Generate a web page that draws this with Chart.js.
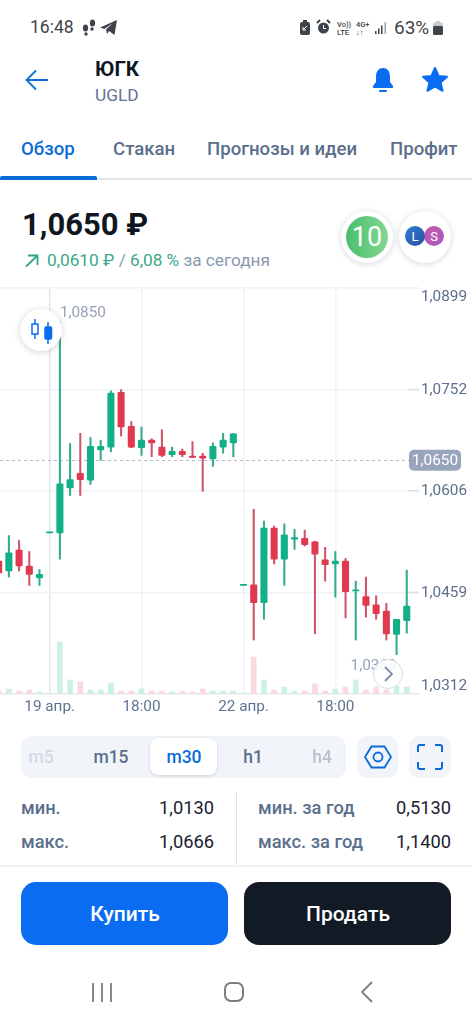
<!DOCTYPE html>
<html lang="ru">
<head>
<meta charset="utf-8">
<title>ЮГК</title>
<script src="https://cdn.jsdelivr.net/npm/chart.js@4"></script>
<style>
html, body { margin: 0; padding: 0; background: #fff; }
body { position: relative; width: 472px; height: 1024px; overflow: hidden; font-family: Roboto, sans-serif; color: #5b6f8c; }
.t { position: absolute; white-space: nowrap; line-height: 1; }
.r { text-align: right; }
.c { transform: translateX(-50%); }
.m { font-weight: 500; }
.box { position: absolute; }
svg { position: absolute; overflow: visible; }
#grafico { position: absolute; left: 0; top: 280px; }
</style>
</head>
<body>

<!-- status bar -->
<div class="t" style="left:30px;top:19px;font-size:17.500px;color:#3f444b">16:48</div>
<svg style="left:82px;top:19px" width="14" height="17" viewBox="0 0 14 17" fill="#3f444b"><ellipse cx="3.5" cy="9" rx="2.6" ry="3.6"/><circle cx="4" cy="15" r="1.7"/><ellipse cx="10.5" cy="4" rx="2.6" ry="3.6"/><circle cx="10" cy="10" r="1.7"/></svg>
<svg style="left:100px;top:20px" width="17" height="15" viewBox="0 0 17 15" fill="#3f444b"><path d="M0 7.5 17 0 14.5 15 9 11 7 14 6 9.5 13 3 4.500 9z"/></svg>
<svg style="left:300px;top:20px" width="10" height="15" viewBox="0 0 10 15"><rect x="0" y="2" width="10" height="13" rx="2" fill="#3f444b"/><rect x="3" y="0" width="4" height="3" fill="#3f444b"/><path d="M3 10 7 6M3 7v3h3" stroke="#fff" fill="none"/></svg>
<svg style="left:317px;top:20px" width="13" height="15" viewBox="0 0 13 15"><circle cx="6.500" cy="8" r="5.500" fill="#3f444b"/><path d="M6.500 5v3.500h2.500" stroke="#fff" fill="none"/><path d="M0 3 3 0M13 3 10 0" stroke="#3f444b" stroke-width="2"/></svg>
<div class="t m" style="left:337px;top:21px;font-size:7.500px;color:#3f444b;line-height:8px">Vo))<br>LTE</div>
<div class="t m" style="left:356px;top:21px;font-size:7.500px;color:#3f444b;line-height:8px">4G+<br>↓↑</div>
<svg style="left:375px;top:22px" width="12" height="12" viewBox="0 0 12 12" fill="#3f444b"><rect x="0" y="9" width="1.500" height="3"/><rect x="3" y="6.500" width="1.500" height="5.500"/><rect x="6" y="3.500" width="1.500" height="8.500"/><rect x="9.500" y="0" width="1.500" height="12" fill="#a0a3a8"/></svg>
<div class="t" style="left:394px;top:18px;font-size:19px;color:#3f444b">63%</div>
<svg style="left:433px;top:21px" width="10" height="14" viewBox="0 0 10 14"><rect x="0" y="1.500" width="10" height="12.500" rx="1.500" fill="#c9cbce"/><rect x="0" y="5" width="10" height="9" rx="1.500" fill="#3f444b"/><rect x="3" y="0" width="4" height="2" fill="#c9cbce"/></svg>

<!-- header -->
<svg style="left:25px;top:69px" width="24" height="22" viewBox="0 0 24 22" fill="none" stroke="#0b6fd6" stroke-width="1.800"><path d="M23 11H2M11 1.500 1.500 11 11 20.500"/></svg>
<div class="t" style="left:95px;top:59px;font-size:20.500px;font-weight:700;color:#10161f">ЮГК</div>
<div class="t" style="left:95px;top:87px;font-size:17.300px;color:#5f7391">UGLD</div>
<svg style="left:372px;top:68px" width="22" height="25" viewBox="0 0 22 25" fill="#0a6cf0"><path d="M11 0C6 0 4 4 4 9v5l-3 4c-.5 1 0 2 1 2h18c1 0 1.500-1 1-2l-3-4V9c0-5-2-9-7-9z"/><rect x="7" y="22" width="8" height="2" rx="1"/></svg>
<svg style="left:421px;top:66px" width="28" height="27" viewBox="0 0 28 27" fill="#0a6cf0"><path stroke="#0a6cf0" stroke-width="2" stroke-linejoin="round" d="M14 2l3.500 8 8.500.8-6.400 5.600 1.900 8.400L14 20.400 6.500 24.800l1.900-8.400L2 10.800l8.500-.8z"/></svg>

<!-- tabs -->
<div class="t m" style="left:21px;top:140px;font-size:18.600px;color:#0a6cd6">Обзор</div>
<div class="t m" style="left:113px;top:140px;font-size:18.600px">Стакан</div>
<div class="t m" style="left:207px;top:140px;font-size:18.600px">Прогнозы и идеи</div>
<div class="t m" style="left:390px;top:140px;font-size:18.600px">Профит</div>
<div class="box" style="left:0;top:178px;width:472px;height:1.500px;background:#dfe3ea"></div>
<div class="box" style="left:0;top:176px;width:97px;height:3.500px;background:#0a6cd6;border-radius:2px 2px 0 0"></div>

<!-- price -->
<div class="t" style="left:22px;top:209px;font-size:31px;font-weight:700;color:#10161f">1,0650 ₽</div>
<svg style="left:25px;top:254px" width="14" height="13" viewBox="0 0 14 13" fill="none" stroke="#2fa583" stroke-width="1.800"><path d="M1 12.500 12.500 1.500M3 1.500h9.500V11"/></svg>
<div class="t" style="left:47px;top:252px;font-size:17.200px;color:#3aa88a">0,0610 ₽ <span style="color:#8b99b0">/</span> 6,08 % <span style="color:#8b99b0">за сегодня</span></div>
<div class="box" style="left:341px;top:211px;width:52px;height:52px;border-radius:50%;background:#fff;box-shadow:0 1px 6px rgba(60,70,90,.22)"></div>
<div class="box" style="left:346px;top:216px;width:42px;height:42px;border-radius:50%;background:linear-gradient(90deg,#4bbf6d,#82d691)"></div>
<div class="t c" style="left:367px;top:224px;font-size:27px;color:#fff">10</div>
<div class="box" style="left:399px;top:211px;width:52px;height:52px;border-radius:50%;background:#fff;box-shadow:0 1px 6px rgba(60,70,90,.22)"></div>
<div class="box" style="left:424px;top:226px;width:20px;height:20px;border-radius:50%;background:linear-gradient(135deg,#c85aa6,#a65ac8)"></div>
<div class="box" style="left:405px;top:226px;width:20px;height:20px;border-radius:50%;background:linear-gradient(135deg,#2f7fd6,#2a4fa0)"></div>
<div class="t c" style="left:415px;top:230px;font-size:13px;color:#fff">L</div>
<div class="t c" style="left:434px;top:230px;font-size:13px;color:#fff">S</div>

<canvas id="grafico" width="472" height="442"></canvas>

<!-- chart overlays -->
<div class="box" style="left:20px;top:309px;width:42px;height:42px;border-radius:50%;background:#fff;box-shadow:0 1px 6px rgba(60,70,90,.25)"></div>
<svg style="left:31px;top:319px" width="22" height="26" viewBox="0 0 22 26" fill="none" stroke="#0a6cf0" stroke-width="1.500"><path d="M4 0v5M4 15v5"/><rect x="1" y="5" width="6" height="10"/><path d="M17 3v7M17 19v6"/><rect x="14" y="8" width="6.500" height="12" rx="1" fill="#0a6cf0"/></svg>
<div class="box" style="left:373px;top:659px;width:28px;height:28px;border-radius:50%;background:rgba(255,255,255,.88);border:1.500px solid #d8dce6"></div>
<svg style="left:384px;top:666px" width="9" height="16" viewBox="0 0 9 16" fill="none" stroke="#7f8dab" stroke-width="1.800"><path d="M1 1l7 7-7 7"/></svg>

<!-- timeframes -->
<div class="box" style="left:21px;top:736px;width:325px;height:42px;border-radius:11px;background:#f1f4f9"></div>
<div class="box" style="left:150px;top:738px;width:67px;height:37px;border-radius:8px;background:#fff;box-shadow:0 1px 3px rgba(60,70,90,.2)"></div>
<div class="t m c" style="left:41px;top:749px;font-size:17.500px;color:#d5dbe5">m5</div>
<div class="t m c" style="left:111px;top:749px;font-size:17.500px">m15</div>
<div class="t m c" style="left:184px;top:749px;font-size:17.500px;color:#0a6cd6">m30</div>
<div class="t m c" style="left:253px;top:749px;font-size:17.500px">h1</div>
<div class="t m c" style="left:322px;top:749px;font-size:17.500px;color:#b8c2cf">h4</div>
<div class="box" style="left:357px;top:736px;width:41px;height:42px;border-radius:10px;background:#f1f4f9"></div>
<svg style="left:364px;top:745px" width="28" height="24" viewBox="0 0 28 24" fill="none" stroke="#0a6cd6" stroke-width="1.800"><path d="M7.500 1.500h13L27 12l-6.500 10.500h-13L1 12z"/><circle cx="14" cy="12" r="4.500"/></svg>
<div class="box" style="left:409px;top:736px;width:42px;height:42px;border-radius:10px;background:#f1f4f9"></div>
<svg style="left:417px;top:744px" width="26" height="26" viewBox="0 0 26 26" fill="none" stroke="#0a6cd6" stroke-width="2"><path d="M1 8V3a2 2 0 0 1 2-2h5M18 1h5a2 2 0 0 1 2 2v5M25 18v5a2 2 0 0 1-2 2h-5M8 25H3a2 2 0 0 1-2-2v-5"/></svg>

<!-- stats -->
<div class="t m" style="left:21px;top:799px;font-size:18.300px">мин.</div>
<div class="t m" style="left:21px;top:833px;font-size:18.300px">макс.</div>
<div class="t r" style="right:258px;top:799px;font-size:18.300px;color:#1a2230">1,0130</div>
<div class="t r" style="right:258px;top:833px;font-size:18.300px;color:#1a2230">1,0666</div>
<div class="box" style="left:236px;top:792px;width:1px;height:74px;background:#dfe3ea"></div>
<div class="t m" style="left:258px;top:799px;font-size:18.300px">мин. за год</div>
<div class="t m" style="left:258px;top:833px;font-size:18.300px">макс. за год</div>
<div class="t r" style="right:21px;top:799px;font-size:18.300px;color:#1a2230">0,5130</div>
<div class="t r" style="right:21px;top:833px;font-size:18.300px;color:#1a2230">1,1400</div>
<div class="box" style="left:0;top:865px;width:472px;height:2px;background:#eef0f5"></div>

<!-- buttons -->
<div class="box" style="left:21px;top:882px;width:207px;height:63px;border-radius:15px;background:#0a6cf0"></div>
<div class="box" style="left:244px;top:882px;width:207px;height:63px;border-radius:15px;background:#121a25"></div>
<div class="t m c" style="left:125px;top:904px;font-size:21px;color:#fff">Купить</div>
<div class="t m c" style="left:348px;top:904px;font-size:21px;color:#fff">Продать</div>

<!-- nav bar -->
<svg style="left:92px;top:982px" width="20" height="20" viewBox="0 0 20 20" stroke="#7d7d7d" stroke-width="1.800"><path d="M1 1v19M10 1v19M19 1v19"/></svg>
<svg style="left:224px;top:982px" width="20" height="20" viewBox="0 0 20 20" fill="none" stroke="#7d7d7d" stroke-width="2"><rect x="1" y="1" width="18" height="18" rx="6"/></svg>
<svg style="left:360px;top:981px" width="13" height="22" viewBox="0 0 13 22" fill="none" stroke="#7d7d7d" stroke-width="1.800"><path d="M12 1 2 11l10 10"/></svg>

<script>
// свечи м30, значения
const opens = [
    1.0504, 1.0490, 1.0520, 1.0497, 1.0480, 1.0545, 1.0545, 1.0610, 1.0631, 1.0621,
    1.0665, 1.0669, 1.0748, 1.0699, 1.0668, 1.0679, 1.0669, 1.0658, 1.0663, 1.0656,
    1.0656, 1.0652, 1.0669, 1.0675, 1.0469, 1.0470, 1.0444, 1.0552, 1.0507, 1.0536,
    1.0537, 1.0532, 1.0506, 1.0500, 1.0504, 1.0461, 1.0453, 1.0441, 1.0432, 1.0398,
    1.0418
];
const closes = [
    1.0487, 1.0516, 1.0497, 1.0485, 1.0485, 1.0546, 1.0616, 1.0622, 1.0622, 1.0670,
    1.0670, 1.0747, 1.0698, 1.0669, 1.0679, 1.0675, 1.0657, 1.0663, 1.0658, 1.0654,
    1.0653, 1.0670, 1.0679, 1.0688, 1.0470, 1.0444, 1.0552, 1.0507, 1.0542, 1.0538,
    1.0528, 1.0514, 1.0499, 1.0504, 1.0460, 1.0462, 1.0440, 1.0428, 1.0399, 1.0420,
    1.0439
];
const highs = [
    1.0511, 1.0541, 1.0534, 1.0518, 1.0492, 1.0546, 1.0850, 1.0674, 1.0689, 1.0683,
    1.0679, 1.0750, 1.0752, 1.0706, 1.0698, 1.0681, 1.0694, 1.0669, 1.0666, 1.0677,
    1.0660, 1.0675, 1.0689, 1.0689, 1.0470, 1.0579, 1.0562, 1.0555, 1.0558, 1.0550,
    1.0549, 1.0533, 1.0524, 1.0518, 1.0508, 1.0475, 1.0481, 1.0454, 1.0443, 1.0420,
    1.0491
];
const lows = [
    1.0484, 1.0481, 1.0490, 1.0469, 1.0469, 1.0545, 1.0507, 1.0599, 1.0599, 1.0615,
    1.0650, 1.0662, 1.0685, 1.0668, 1.0657, 1.0655, 1.0655, 1.0655, 1.0655, 1.0654,
    1.0605, 1.0641, 1.0660, 1.0655, 1.0469, 1.0390, 1.0420, 1.0500, 1.0469, 1.0521,
    1.0526, 1.0399, 1.0475, 1.0452, 1.0422, 1.0390, 1.0423, 1.0420, 1.0390, 1.0369,
    1.0400
];
const volumes = [
    3, 5, 3, 4, 2, 0, 52, 14, 12, 4,
    4, 11, 3, 3, 5, 3, 3, 2, 3, 2,
    5, 3, 3, 3, 1, 37, 14, 4, 7, 3,
    3, 10, 3, 5, 7, 14, 4, 7, 4, 8,
    7
];

const timeTicks = [5, 14, 24, 33];
const timeLabels = ["19 апр.", "18:00", "22 апр.", "18:00"];
const priceTicks = [1.0899, 1.0752, 1.0606, 1.0459, 1.0312];
const currentPrice = 1.0650;

const GREEN = "#11b088";
const RED = "#df3a50";
const GREEN_SOFT = "#cdf0e6";
const RED_SOFT = "#fcd9dc";
const FONT = { family: "Roboto", size: 15.3 };

function formatPrice(value) {
    return value.toFixed(4).replace(".", ",");
}

function isUp(i) {
    return closes[i] >= opens[i];
}

const candleIndex = opens.map(function (_, i) {
    return i;
});

const priceOverlay = {
    id: "priceOverlay",

    beforeDatasetsDraw(chart) {
        const { ctx, scales, chartArea } = chart;
        const y = Math.round(scales.y.getPixelForValue(currentPrice)) + 0.5;

        ctx.save();
        ctx.strokeStyle = "#b7bcc7";
        ctx.lineWidth = 1;
        ctx.setLineDash([3, 3]);
        ctx.beginPath();
        ctx.moveTo(chartArea.left, y);
        ctx.lineTo(chartArea.right - 10, y);
        ctx.stroke();
        ctx.restore();
    },

    afterDraw(chart) {
        const { ctx, scales, chartArea } = chart;

        ctx.save();
        ctx.font = "15.3px Roboto";
        ctx.textBaseline = "middle";

        // подписи шкалы цен, крайние прижаты внутрь
        priceTicks.forEach(function (tick) {
            const pixel = scales.y.getPixelForValue(tick);
            const y = Math.min(Math.max(pixel, chartArea.top + 8), chartArea.bottom - 9);

            if (pixel === y) {
                ctx.fillStyle = "#d9dde6";
                ctx.fillRect(chartArea.right - 10, pixel - 0.75, 10, 1.5);
            }

            ctx.fillStyle = "#5c6f8c";
            ctx.textAlign = "left";
            ctx.fillText(formatPrice(tick), chartArea.right + 2, y + 1);
        });

        // текущая цена
        const priceY = scales.y.getPixelForValue(currentPrice);
        ctx.fillStyle = "#99a5bd";
        ctx.beginPath();
        ctx.roundRect(chartArea.right - 10, priceY - 10.5, 52, 21, 5);
        ctx.fill();
        ctx.fillStyle = "#fff";
        ctx.fillText(formatPrice(currentPrice), chartArea.right - 7, priceY + 1);

        // максимум и минимум на видимом участке
        const highest = highs.indexOf(Math.max(...highs));
        const lowest = lows.indexOf(Math.min(...lows));

        ctx.fillStyle = "#96a3b8";
        ctx.fillText(
            formatPrice(highs[highest]),
            scales.x.getPixelForValue(highest),
            scales.y.getPixelForValue(highs[highest]) - 9
        );
        ctx.textAlign = "right";
        ctx.fillText(
            formatPrice(lows[lowest]),
            scales.x.getPixelForValue(lowest),
            scales.y.getPixelForValue(lows[lowest]) + 12
        );

        ctx.restore();
    }
};

new Chart(document.getElementById("grafico"), {

    type: "bar",

    data: {

        datasets: [
            {
                label: "Объём",
                yAxisID: "volume",
                order: 3,
                data: candleIndex.map(function (i) {
                    return { x: i, y: volumes[i] };
                }),
                backgroundColor: candleIndex.map(function (i) {
                    return isUp(i) ? GREEN_SOFT : RED_SOFT;
                }),
                barThickness: 5
            },
            {
                label: "Тени",
                yAxisID: "y",
                order: 2,
                data: candleIndex.map(function (i) {
                    return { x: i, y: [lows[i], highs[i]] };
                }),
                backgroundColor: candleIndex.map(function (i) {
                    return isUp(i) ? "#35ab8d" : "#cf5568";
                }),
                barThickness: 1.4
            },
            {
                label: "Свечи",
                yAxisID: "y",
                order: 1,
                data: candleIndex.map(function (i) {
                    return { x: i, y: [opens[i], closes[i]] };
                }),
                backgroundColor: candleIndex.map(function (i) {
                    return isUp(i) ? GREEN : RED;
                }),
                borderRadius: 1,
                borderSkipped: false,
                barThickness: 6.4,
                minBarLength: 1
            }
        ]
    },

    options: {

        responsive: false,
        animation: false,
        events: [],
        grouped: false,

        layout: {
            padding: { top: 8 }
        },

        plugins: {
            legend: { display: false },
            tooltip: { enabled: false }
        },

        scales: {

            x: {
                type: "linear",
                offset: false,
                min: 0.13,
                max: 41.2,
                afterBuildTicks(axis) {
                    axis.ticks = timeTicks.map(function (value) {
                        return { value: value };
                    });
                },
                afterFit(axis) {
                    axis.height = 28;
                },
                border: { display: false },
                grid: {
                    offset: false,
                    drawTicks: false,
                    lineWidth: 1.5,
                    color(context) {
                        return context.index === 0 ? "#e2e5ec" : "#f0f2f6";
                    }
                },
                ticks: {
                    font: FONT,
                    color: "#5f7391",
                    padding: 4,
                    maxRotation: 0,
                    autoSkip: false,
                    callback(value) {
                        return timeLabels[timeTicks.indexOf(value)];
                    }
                }
            },

            y: {
                position: "right",
                min: 1.0312,
                max: 1.0899,
                afterBuildTicks(axis) {
                    axis.ticks = priceTicks.map(function (value) {
                        return { value: value };
                    });
                },
                afterFit(axis) {
                    axis.width = 53;
                },
                border: { display: false },
                grid: {
                    drawTicks: false,
                    lineWidth: 1.5,
                    color(context) {
                        return context.tick.value === 1.0312 ? "#e4e7ed" : "#f0f2f6";
                    }
                },
                ticks: {
                    display: false
                }
            },

            volume: {
                display: false,
                min: 0,
                max: 406
            }
        }
    },

    plugins: [priceOverlay]

});
</script>
</body>
</html>
